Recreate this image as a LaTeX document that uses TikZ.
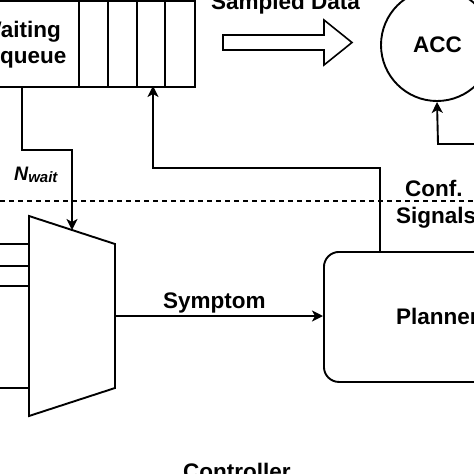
\documentclass[tikz,border=0pt]{standalone}
\usepackage{fontspec}
\setmainfont{Liberation Sans}
\usetikzlibrary{arrows.meta}
\begin{document}
\begin{tikzpicture}[x=1pt,y=-1pt,
  ln/.style={line width=1.9pt},
  arr/.style={ln,-{Stealth[length=11pt,width=11pt,inset=3pt]}},
  lbl/.style={inner sep=0pt,font=\fontsize{22.5}{26}\selectfont\bfseries},
  dsh/.style={line width=1.5pt,dash pattern=on 5pt off 4pt}]
\useasboundingbox (0,0) rectangle (474,474);
\begin{scope}
\clip (0,0) rectangle (474,474);
% waiting queue
\node[ln,draw,rectangle,minimum width=234pt,minimum height=86pt,inner sep=0pt,anchor=north west] (queue) at (-40,0) {};
\foreach \x in {79,108,137,165} \draw[ln] (\x,0) -- (\x,86);
\node[lbl,anchor=base east] (wt) at (61,37) {Waiting};
\node[lbl,anchor=base west] (qu) at (0,63) {queue};
% sampled data arrow
\node[lbl,anchor=base west] (sd) at (211,9) {Sampled Data};
\draw[line width=1.6pt] (223,35) -- (324,35) -- (324,20) -- (352,42.5) -- (324,65) -- (324,50) -- (223,50) -- cycle;
% ACC
\node[ln,draw,circle,minimum size=112pt,inner sep=0pt] (acc) at (437,45) {};
\node[lbl,anchor=base west] (acct) at (413,52) {ACC};
\coordinate (accin) at (490,144);
\draw[arr] (accin) -- (438,144) -- (acc.south);
% dashed separator
\coordinate (dl) at (0,201);
\coordinate (dr) at (474,201);
\draw[dsh] (dl) -- (dr);
\node[lbl,anchor=base west] (conf) at (405,196) {Conf.};
\node[lbl,anchor=base west] (sig) at (396,223) {Signals};
% mux trapezoid
\coordinate (t1) at (29,216);
\coordinate (t2) at (115,244);
\coordinate (t3) at (115,388);
\coordinate (t4) at (29,416);
\draw[ln,line join=miter] (t1) -- (t2) -- (t3) -- (t4) -- cycle;
\coordinate (tin) at (72,230);
\foreach \y in {244,266,286,388} \draw[ln] (0,\y) -- (29,\y);
% N_wait
\draw[arr] (22,86) -- (22,150) -- (72,150) -- (tin);
\node[inner sep=0pt,anchor=base west] (nw) at (14,180) {\fontsize{19.5}{22}\selectfont\bfseries\itshape N\raisebox{-2pt}{\fontsize{15}{16}\selectfont wait}};
% planner
\node[ln,draw,rectangle,rounded corners=15pt,minimum width=240pt,minimum height=130pt,inner sep=0pt,anchor=north west] (plan) at (323,251) {};
\node[lbl,anchor=base west] (plant) at (396,324) {Planner};
\draw[arr] (115,316) -- (plan.west |- 0,316);
\node[lbl,anchor=base west] (sym) at (163,308) {Symptom};
% conf signals feedback
\draw[arr] (380,251) -- (380,168) -- (153,168) -- (153,86);
% controller
\node[lbl,anchor=base west] (ctrl) at (183,479) {Controller};
\end{scope}
\end{tikzpicture}
\end{document}
